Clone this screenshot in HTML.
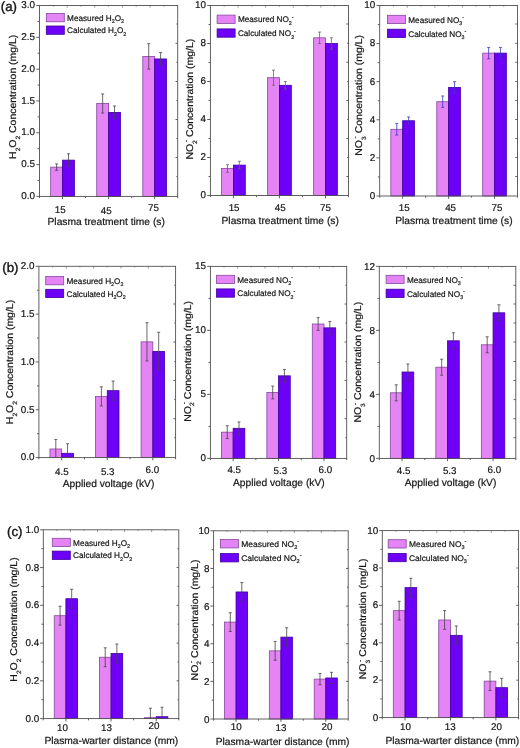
<!DOCTYPE html>
<html><head><meta charset="utf-8"><title>Figure</title>
<style>html,body{margin:0;padding:0;background:#fff}svg{display:block}text{stroke:#161616;stroke-width:0.2px;text-rendering:geometricPrecision}</style></head>
<body><svg width="520" height="748" viewBox="0 0 520 748" font-family='"Liberation Sans", sans-serif' fill="#161616">
<rect width="520" height="748" fill="#ffffff"/>
<g>
<rect x="50.67" y="167.13" width="11.87" height="29.27" fill="#e584f5" stroke="#84489e" stroke-width="0.8"/>
<rect x="62.53" y="160.13" width="11.87" height="36.27" fill="#6e00f8" stroke="#3c00a0" stroke-width="0.8"/>
<path d="M56.60 163.95V170.31M55.10 163.95h3M55.10 170.31h3" stroke="#444" stroke-width="0.8" fill="none"/>
<path d="M68.47 153.77V166.49M66.97 153.77h3M66.97 166.49h3" stroke="#444" stroke-width="0.8" fill="none"/>
<rect x="96.73" y="103.50" width="11.87" height="92.90" fill="#e584f5" stroke="#84489e" stroke-width="0.8"/>
<rect x="108.60" y="112.40" width="11.87" height="84.00" fill="#6e00f8" stroke="#3c00a0" stroke-width="0.8"/>
<path d="M102.67 93.95V113.04M101.17 93.95h3M101.17 113.04h3" stroke="#444" stroke-width="0.8" fill="none"/>
<path d="M114.53 106.04V118.77M113.03 106.04h3M113.03 118.77h3" stroke="#444" stroke-width="0.8" fill="none"/>
<rect x="142.80" y="56.41" width="11.87" height="139.99" fill="#e584f5" stroke="#84489e" stroke-width="0.8"/>
<rect x="154.67" y="58.95" width="11.87" height="137.45" fill="#6e00f8" stroke="#3c00a0" stroke-width="0.8"/>
<path d="M148.73 43.68V69.13M147.23 43.68h3M147.23 69.13h3" stroke="#444" stroke-width="0.8" fill="none"/>
<path d="M160.60 52.59V65.32M159.10 52.59h3M159.10 65.32h3" stroke="#444" stroke-width="0.8" fill="none"/>
<rect x="39.50" y="5.50" width="138.20" height="190.90" fill="none" stroke="#505050" stroke-width="0.9"/>
<text transform="translate(35.10 199.10)" font-size="9.9" text-anchor="end">0.0</text>
<text transform="translate(35.10 167.28)" font-size="9.9" text-anchor="end">0.5</text>
<text transform="translate(35.10 135.47)" font-size="9.9" text-anchor="end">1.0</text>
<text transform="translate(35.10 103.65)" font-size="9.9" text-anchor="end">1.5</text>
<text transform="translate(35.10 71.83)" font-size="9.9" text-anchor="end">2.0</text>
<text transform="translate(35.10 40.02)" font-size="9.9" text-anchor="end">2.5</text>
<text transform="translate(35.10 8.20)" font-size="9.9" text-anchor="end">3.0</text>
<text transform="translate(60.20 213.00)" font-size="9.8" text-anchor="middle">15</text>
<text transform="translate(106.20 213.50)" font-size="9.8" text-anchor="middle">45</text>
<text transform="translate(153.50 211.40)" font-size="9.8" text-anchor="middle">75</text>
<path d="M39.50 196.40h-3.2M39.50 180.49h-1.9M39.50 164.58h-3.2M39.50 148.68h-1.9M39.50 132.77h-3.2M39.50 116.86h-1.9M39.50 100.95h-3.2M39.50 85.04h-1.9M39.50 69.13h-3.2M39.50 53.22h-1.9M39.50 37.32h-3.2M39.50 21.41h-1.9M39.50 5.50h-3.2M177.70 43.30h-2.2M177.70 81.50h-2.2M177.70 119.50h-2.2M177.70 157.50h-2.2M177.70 24.00h-1.3M177.70 62.30h-1.3M177.70 100.50h-1.3M177.70 138.50h-1.3M177.70 176.50h-1.3M62.53 196.40v2.8M108.60 196.40v2.8M154.67 196.40v2.8M39.50 196.40v1.7M85.57 196.40v1.7M131.63 196.40v1.7M177.70 196.40v1.7" stroke="#505050" stroke-width="0.9" fill="none"/>
<path d="M53.32 5.50v1.2M67.14 5.50v2.2M80.96 5.50v1.2M94.78 5.50v2.2M108.60 5.50v1.2M122.42 5.50v2.2M136.24 5.50v1.2M150.06 5.50v2.2M163.88 5.50v1.2" stroke="#505050" stroke-width="0.8" fill="none" opacity="0.7"/>
<text transform="translate(106.20 224.60)" font-size="10.25" text-anchor="middle">Plasma treatment time (s)</text>
<text transform="translate(16.00 96.80) rotate(-90) scale(1.068 1)" font-size="9.8" text-anchor="middle">H<tspan dy="3.8" font-size="6.2">2</tspan><tspan dy="-3.8">O</tspan><tspan dy="3.8" font-size="6.2">2</tspan><tspan dy="-3.8"> Concentration (mg/L)</tspan></text>
<rect x="46.30" y="13.50" width="18" height="8.3" fill="#e584f5" stroke="#84489e" stroke-width="0.8"/>
<rect x="46.30" y="26.00" width="18" height="8.3" fill="#6e00f8" stroke="#3c00a0" stroke-width="0.8"/>
<text transform="translate(67.10 20.80)" font-size="8.2">Measured H<tspan dy="2.3" font-size="5.3">2</tspan><tspan dy="-2.3">O</tspan><tspan dy="2.3" font-size="5.3">2</tspan></text>
<text transform="translate(67.10 33.30)" font-size="8.2">Calculated H<tspan dy="2.3" font-size="5.3">2</tspan><tspan dy="-2.3">O</tspan><tspan dy="2.3" font-size="5.3">2</tspan></text>
<text transform="translate(0.80 10.50)" font-size="13.3" style="stroke-width:0.4px">(a)</text>
</g>
<g>
<rect x="221.56" y="168.52" width="11.86" height="26.98" fill="#e584f5" stroke="#84489e" stroke-width="0.8"/>
<rect x="233.42" y="165.10" width="11.86" height="30.40" fill="#6e00f8" stroke="#3c00a0" stroke-width="0.8"/>
<path d="M227.49 164.72V172.32M225.99 164.72h3M225.99 172.32h3" stroke="#666" stroke-width="0.8" fill="none"/>
<path d="M239.35 161.30V168.90M237.85 161.30h3M237.85 168.90h3" stroke="#666" stroke-width="0.8" fill="none"/>
<rect x="267.59" y="77.70" width="11.86" height="117.80" fill="#e584f5" stroke="#84489e" stroke-width="0.8"/>
<rect x="279.45" y="85.30" width="11.86" height="110.20" fill="#6e00f8" stroke="#3c00a0" stroke-width="0.8"/>
<path d="M273.52 70.10V85.30M272.02 70.10h3M272.02 85.30h3" stroke="#666" stroke-width="0.8" fill="none"/>
<path d="M285.38 81.50V89.10M283.88 81.50h3M283.88 89.10h3" stroke="#666" stroke-width="0.8" fill="none"/>
<rect x="313.62" y="37.80" width="11.86" height="157.70" fill="#e584f5" stroke="#84489e" stroke-width="0.8"/>
<rect x="325.48" y="43.50" width="11.86" height="152.00" fill="#6e00f8" stroke="#3c00a0" stroke-width="0.8"/>
<path d="M319.55 32.10V43.50M318.05 32.10h3M318.05 43.50h3" stroke="#666" stroke-width="0.8" fill="none"/>
<path d="M331.41 37.80V49.20M329.91 37.80h3M329.91 49.20h3" stroke="#666" stroke-width="0.8" fill="none"/>
<rect x="210.40" y="5.50" width="138.10" height="190.00" fill="none" stroke="#505050" stroke-width="0.9"/>
<text transform="translate(206.00 198.10)" font-size="9.9" text-anchor="end">0</text>
<text transform="translate(206.00 160.10)" font-size="9.9" text-anchor="end">2</text>
<text transform="translate(206.00 122.10)" font-size="9.9" text-anchor="end">4</text>
<text transform="translate(206.00 84.10)" font-size="9.9" text-anchor="end">6</text>
<text transform="translate(206.00 46.10)" font-size="9.9" text-anchor="end">8</text>
<text transform="translate(206.00 8.10)" font-size="9.9" text-anchor="end">10</text>
<text transform="translate(234.10 210.80)" font-size="9.8" text-anchor="middle">15</text>
<text transform="translate(280.20 210.80)" font-size="9.8" text-anchor="middle">45</text>
<text transform="translate(325.40 210.80)" font-size="9.8" text-anchor="middle">75</text>
<path d="M210.40 195.50h-3.2M210.40 176.50h-1.9M210.40 157.50h-3.2M210.40 138.50h-1.9M210.40 119.50h-3.2M210.40 100.50h-1.9M210.40 81.50h-3.2M210.40 62.50h-1.9M210.40 43.50h-3.2M210.40 24.50h-1.9M210.40 5.50h-3.2M348.50 24.00h-2.2M348.50 62.30h-2.2M348.50 100.50h-2.2M348.50 138.50h-2.2M348.50 176.50h-2.2M348.50 43.30h-1.3M348.50 81.50h-1.3M348.50 119.50h-1.3M348.50 157.50h-1.3M233.42 195.50v2.8M279.45 195.50v2.8M325.48 195.50v2.8M210.40 195.50v1.7M256.43 195.50v1.7M302.47 195.50v1.7M348.50 195.50v1.7" stroke="#505050" stroke-width="0.9" fill="none"/>
<path d="M224.21 5.50v1.2M238.02 5.50v2.2M251.83 5.50v1.2M265.64 5.50v2.2M279.45 5.50v1.2M293.26 5.50v2.2M307.07 5.50v1.2M320.88 5.50v2.2M334.69 5.50v1.2" stroke="#505050" stroke-width="0.8" fill="none" opacity="0.7"/>
<text transform="translate(280.20 224.30)" font-size="10.25" text-anchor="middle">Plasma treatment time (s)</text>
<text transform="translate(192.70 99.20) rotate(-90) scale(1.068 1)" font-size="9.8" text-anchor="middle">NO<tspan dy="3.8" font-size="6.2">2</tspan><tspan dy="-8.21" dx="-1.86" font-size="6.2">-</tspan><tspan dy="4.41"> Concentration (mg/L)</tspan></text>
<rect x="217.10" y="15.10" width="18" height="8.3" fill="#e584f5" stroke="#84489e" stroke-width="0.8"/>
<rect x="217.10" y="28.90" width="18" height="8.3" fill="#6e00f8" stroke="#3c00a0" stroke-width="0.8"/>
<text transform="translate(237.90 22.40)" font-size="8.2">Measured NO<tspan dy="2.3" font-size="5.3">2</tspan><tspan dy="-5.99" dx="-0" font-size="5.3">-</tspan></text>
<text transform="translate(237.90 36.20)" font-size="8.2">Calculated NO<tspan dy="2.3" font-size="5.3">2</tspan><tspan dy="-5.99" dx="-0" font-size="5.3">-</tspan></text>
</g>
<g>
<rect x="390.83" y="129.32" width="11.83" height="66.68" fill="#e584f5" stroke="#84489e" stroke-width="0.8"/>
<rect x="402.67" y="120.75" width="11.83" height="75.25" fill="#6e00f8" stroke="#3c00a0" stroke-width="0.8"/>
<path d="M396.75 123.61V135.04M395.25 123.61h3M395.25 135.04h3" stroke="#3a3ac8" stroke-width="0.8" fill="none"/>
<path d="M408.58 116.94V124.56M407.08 116.94h3M407.08 124.56h3" stroke="#3a3ac8" stroke-width="0.8" fill="none"/>
<rect x="436.77" y="101.70" width="11.83" height="94.30" fill="#e584f5" stroke="#84489e" stroke-width="0.8"/>
<rect x="448.60" y="87.41" width="11.83" height="108.59" fill="#6e00f8" stroke="#3c00a0" stroke-width="0.8"/>
<path d="M442.68 95.99V107.42M441.18 95.99h3M441.18 107.42h3" stroke="#3a3ac8" stroke-width="0.8" fill="none"/>
<path d="M454.52 81.70V93.13M453.02 81.70h3M453.02 93.13h3" stroke="#3a3ac8" stroke-width="0.8" fill="none"/>
<rect x="482.70" y="53.12" width="11.83" height="142.88" fill="#e584f5" stroke="#84489e" stroke-width="0.8"/>
<rect x="494.53" y="53.12" width="11.83" height="142.88" fill="#6e00f8" stroke="#3c00a0" stroke-width="0.8"/>
<path d="M488.62 47.41V58.84M487.12 47.41h3M487.12 58.84h3" stroke="#3a3ac8" stroke-width="0.8" fill="none"/>
<path d="M500.45 47.41V58.84M498.95 47.41h3M498.95 58.84h3" stroke="#3a3ac8" stroke-width="0.8" fill="none"/>
<rect x="379.70" y="5.50" width="137.80" height="190.50" fill="none" stroke="#505050" stroke-width="0.9"/>
<text transform="translate(375.30 198.80)" font-size="9.9" text-anchor="end">0</text>
<text transform="translate(375.30 160.70)" font-size="9.9" text-anchor="end">2</text>
<text transform="translate(375.30 122.60)" font-size="9.9" text-anchor="end">4</text>
<text transform="translate(375.30 84.50)" font-size="9.9" text-anchor="end">6</text>
<text transform="translate(375.30 46.40)" font-size="9.9" text-anchor="end">8</text>
<text transform="translate(375.30 8.30)" font-size="9.9" text-anchor="end">10</text>
<text transform="translate(404.30 211.40)" font-size="9.8" text-anchor="middle">15</text>
<text transform="translate(450.60 211.40)" font-size="9.8" text-anchor="middle">45</text>
<text transform="translate(497.00 210.50)" font-size="9.8" text-anchor="middle">75</text>
<path d="M379.70 196.00h-3.2M379.70 176.95h-1.9M379.70 157.90h-3.2M379.70 138.85h-1.9M379.70 119.80h-3.2M379.70 100.75h-1.9M379.70 81.70h-3.2M379.70 62.65h-1.9M379.70 43.60h-3.2M379.70 24.55h-1.9M379.70 5.50h-3.2M517.50 24.00h-2.2M517.50 43.30h-2.2M517.50 62.30h-2.2M517.50 81.50h-2.2M517.50 100.50h-2.2M517.50 119.50h-2.2M517.50 138.50h-2.2M517.50 157.50h-2.2M517.50 176.50h-2.2M402.67 196.00v2.8M448.60 196.00v2.8M494.53 196.00v2.8M379.70 196.00v1.7M425.63 196.00v1.7M471.57 196.00v1.7M517.50 196.00v1.7" stroke="#505050" stroke-width="0.9" fill="none"/>
<path d="M393.48 5.50v1.2M407.26 5.50v2.2M421.04 5.50v1.2M434.82 5.50v2.2M448.60 5.50v1.2M462.38 5.50v2.2M476.16 5.50v1.2M489.94 5.50v2.2M503.72 5.50v1.2" stroke="#505050" stroke-width="0.8" fill="none" opacity="0.7"/>
<text transform="translate(453.90 224.30)" font-size="10.25" text-anchor="middle">Plasma treatment time (s)</text>
<text transform="translate(361.90 95.40) rotate(-90) scale(1.068 1)" font-size="9.8" text-anchor="middle">NO<tspan dy="3.8" font-size="6.2">3</tspan><tspan dy="-8.21" dx="-1.86" font-size="6.2">-</tspan><tspan dy="4.41"> Concentration (mg/L)</tspan></text>
<rect x="387.50" y="15.30" width="18" height="8.3" fill="#e584f5" stroke="#84489e" stroke-width="0.8"/>
<rect x="387.50" y="29.20" width="18" height="8.3" fill="#6e00f8" stroke="#3c00a0" stroke-width="0.8"/>
<text transform="translate(408.30 22.60)" font-size="8.2">Measured NO<tspan dy="2.3" font-size="5.3">3</tspan><tspan dy="-5.99" dx="-0" font-size="5.3">-</tspan></text>
<text transform="translate(408.30 36.50)" font-size="8.2">Calculated NO<tspan dy="2.3" font-size="5.3">3</tspan><tspan dy="-5.99" dx="-0" font-size="5.3">-</tspan></text>
</g>
<g>
<rect x="49.94" y="448.99" width="11.74" height="8.61" fill="#e584f5" stroke="#84489e" stroke-width="0.8"/>
<rect x="61.68" y="453.30" width="11.74" height="4.30" fill="#6e00f8" stroke="#3c00a0" stroke-width="0.8"/>
<path d="M55.81 439.43V457.60M54.31 439.43h3" stroke="#444" stroke-width="0.8" fill="none"/>
<path d="M67.55 443.73V457.60M66.05 443.73h3" stroke="#444" stroke-width="0.8" fill="none"/>
<rect x="95.51" y="396.38" width="11.74" height="61.22" fill="#e584f5" stroke="#84489e" stroke-width="0.8"/>
<rect x="107.25" y="390.65" width="11.74" height="66.95" fill="#6e00f8" stroke="#3c00a0" stroke-width="0.8"/>
<path d="M101.38 386.82V405.95M99.88 386.82h3M99.88 405.95h3" stroke="#444" stroke-width="0.8" fill="none"/>
<path d="M113.12 381.08V400.21M111.62 381.08h3M111.62 400.21h3" stroke="#444" stroke-width="0.8" fill="none"/>
<rect x="141.08" y="341.86" width="11.74" height="115.74" fill="#e584f5" stroke="#84489e" stroke-width="0.8"/>
<rect x="152.82" y="351.43" width="11.74" height="106.17" fill="#6e00f8" stroke="#3c00a0" stroke-width="0.8"/>
<path d="M146.95 322.73V360.99M145.45 322.73h3M145.45 360.99h3" stroke="#444" stroke-width="0.8" fill="none"/>
<path d="M158.69 332.30V370.56M157.19 332.30h3M157.19 370.56h3" stroke="#444" stroke-width="0.8" fill="none"/>
<rect x="38.90" y="266.30" width="136.70" height="191.30" fill="none" stroke="#505050" stroke-width="0.9"/>
<text transform="translate(34.50 460.40)" font-size="9.9" text-anchor="end">0.0</text>
<text transform="translate(34.50 412.58)" font-size="9.9" text-anchor="end">0.5</text>
<text transform="translate(34.50 364.75)" font-size="9.9" text-anchor="end">1.0</text>
<text transform="translate(34.50 316.93)" font-size="9.9" text-anchor="end">1.5</text>
<text transform="translate(34.50 269.10)" font-size="9.9" text-anchor="end">2.0</text>
<text transform="translate(61.80 474.90)" font-size="9.8" text-anchor="middle">4.5</text>
<text transform="translate(107.70 474.90)" font-size="9.8" text-anchor="middle">5.3</text>
<text transform="translate(152.30 473.40)" font-size="9.8" text-anchor="middle">6.0</text>
<path d="M38.90 457.60h-3.2M38.90 433.69h-1.9M38.90 409.78h-3.2M38.90 385.86h-1.9M38.90 361.95h-3.2M38.90 338.04h-1.9M38.90 314.12h-3.2M38.90 290.21h-1.9M38.90 266.30h-3.2M175.60 304.00h-2.2M175.60 342.00h-2.2M175.60 380.50h-2.2M175.60 418.70h-2.2M175.60 285.30h-1.3M175.60 323.00h-1.3M175.60 361.50h-1.3M175.60 399.60h-1.3M175.60 437.70h-1.3M61.68 457.60v2.8M107.25 457.60v2.8M152.82 457.60v2.8M38.90 457.60v1.7M84.47 457.60v1.7M130.03 457.60v1.7M175.60 457.60v1.7" stroke="#505050" stroke-width="0.9" fill="none"/>
<path d="M52.57 266.30v1.2M66.24 266.30v2.2M79.91 266.30v1.2M93.58 266.30v2.2M107.25 266.30v1.2M120.92 266.30v2.2M134.59 266.30v1.2M148.26 266.30v2.2M161.93 266.30v1.2" stroke="#505050" stroke-width="0.8" fill="none" opacity="0.7"/>
<text transform="translate(108.50 487.20)" font-size="10.25" text-anchor="middle">Applied voltage (kV)</text>
<text transform="translate(13.00 362.00) rotate(-90) scale(1.068 1)" font-size="9.8" text-anchor="middle">H<tspan dy="3.8" font-size="6.2">2</tspan><tspan dy="-3.8">O</tspan><tspan dy="3.8" font-size="6.2">2</tspan><tspan dy="-3.8"> Concentration (mg/L)</tspan></text>
<rect x="45.70" y="276.50" width="18" height="8.3" fill="#e584f5" stroke="#84489e" stroke-width="0.8"/>
<rect x="45.70" y="289.30" width="18" height="8.3" fill="#6e00f8" stroke="#3c00a0" stroke-width="0.8"/>
<text transform="translate(66.50 283.80)" font-size="8.2">Measured H<tspan dy="2.3" font-size="5.3">2</tspan><tspan dy="-2.3">O</tspan><tspan dy="2.3" font-size="5.3">2</tspan></text>
<text transform="translate(66.50 296.60)" font-size="8.2">Calculated H<tspan dy="2.3" font-size="5.3">2</tspan><tspan dy="-2.3">O</tspan><tspan dy="2.3" font-size="5.3">2</tspan></text>
<text transform="translate(2.20 271.50)" font-size="13.3" style="stroke-width:0.4px">(b)</text>
</g>
<g>
<rect x="221.41" y="432.16" width="11.70" height="26.24" fill="#e584f5" stroke="#84489e" stroke-width="0.8"/>
<rect x="233.12" y="428.32" width="11.70" height="30.08" fill="#6e00f8" stroke="#3c00a0" stroke-width="0.8"/>
<path d="M227.26 425.76V438.56M225.76 425.76h3M225.76 438.56h3" stroke="#444" stroke-width="0.8" fill="none"/>
<path d="M238.97 421.92V434.72M237.47 421.92h3M237.47 434.72h3" stroke="#444" stroke-width="0.8" fill="none"/>
<rect x="266.85" y="392.48" width="11.70" height="65.92" fill="#e584f5" stroke="#84489e" stroke-width="0.8"/>
<rect x="278.55" y="375.84" width="11.70" height="82.56" fill="#6e00f8" stroke="#3c00a0" stroke-width="0.8"/>
<path d="M272.70 386.08V398.88M271.20 386.08h3M271.20 398.88h3" stroke="#444" stroke-width="0.8" fill="none"/>
<path d="M284.40 369.44V382.24M282.90 369.44h3M282.90 382.24h3" stroke="#444" stroke-width="0.8" fill="none"/>
<rect x="312.28" y="324.00" width="11.70" height="134.40" fill="#e584f5" stroke="#84489e" stroke-width="0.8"/>
<rect x="323.98" y="327.84" width="11.70" height="130.56" fill="#6e00f8" stroke="#3c00a0" stroke-width="0.8"/>
<path d="M318.13 317.60V330.40M316.63 317.60h3M316.63 330.40h3" stroke="#444" stroke-width="0.8" fill="none"/>
<path d="M329.84 321.44V334.24M328.34 321.44h3M328.34 334.24h3" stroke="#444" stroke-width="0.8" fill="none"/>
<rect x="210.40" y="266.40" width="136.30" height="192.00" fill="none" stroke="#505050" stroke-width="0.9"/>
<text transform="translate(206.00 461.00)" font-size="9.9" text-anchor="end">0</text>
<text transform="translate(206.00 397.00)" font-size="9.9" text-anchor="end">5</text>
<text transform="translate(206.00 333.00)" font-size="9.9" text-anchor="end">10</text>
<text transform="translate(206.00 269.00)" font-size="9.9" text-anchor="end">15</text>
<text transform="translate(234.20 473.40)" font-size="9.8" text-anchor="middle">4.5</text>
<text transform="translate(280.40 474.00)" font-size="9.8" text-anchor="middle">5.3</text>
<text transform="translate(325.40 473.40)" font-size="9.8" text-anchor="middle">6.0</text>
<path d="M210.40 458.40h-3.2M210.40 426.40h-1.9M210.40 394.40h-3.2M210.40 362.40h-1.9M210.40 330.40h-3.2M210.40 298.40h-1.9M210.40 266.40h-3.2M346.70 304.00h-2.2M346.70 342.00h-2.2M346.70 380.50h-2.2M346.70 418.70h-2.2M346.70 285.30h-1.3M346.70 323.00h-1.3M346.70 361.50h-1.3M346.70 399.60h-1.3M346.70 437.70h-1.3M233.12 458.40v2.8M278.55 458.40v2.8M323.98 458.40v2.8M210.40 458.40v1.7M255.83 458.40v1.7M301.27 458.40v1.7M346.70 458.40v1.7" stroke="#505050" stroke-width="0.9" fill="none"/>
<path d="M224.03 266.40v1.2M237.66 266.40v2.2M251.29 266.40v1.2M264.92 266.40v2.2M278.55 266.40v1.2M292.18 266.40v2.2M305.81 266.40v1.2M319.44 266.40v2.2M333.07 266.40v1.2" stroke="#505050" stroke-width="0.8" fill="none" opacity="0.7"/>
<text transform="translate(278.80 485.70)" font-size="10.25" text-anchor="middle">Applied voltage (kV)</text>
<text transform="translate(190.60 361.30) rotate(-90) scale(1.068 1)" font-size="9.8" text-anchor="middle">NO<tspan dy="3.8" font-size="6.2">2</tspan><tspan dy="-8.21" dx="-1.86" font-size="6.2">-</tspan><tspan dy="4.41"> Concentration (mg/L)</tspan></text>
<rect x="216.50" y="275.30" width="18" height="8.3" fill="#e584f5" stroke="#84489e" stroke-width="0.8"/>
<rect x="216.50" y="288.90" width="18" height="8.3" fill="#6e00f8" stroke="#3c00a0" stroke-width="0.8"/>
<text transform="translate(237.30 282.60)" font-size="8.2">Measured NO<tspan dy="2.3" font-size="5.3">2</tspan><tspan dy="-5.99" dx="-0" font-size="5.3">-</tspan></text>
<text transform="translate(237.30 296.20)" font-size="8.2">Calculated NO<tspan dy="2.3" font-size="5.3">2</tspan><tspan dy="-5.99" dx="-0" font-size="5.3">-</tspan></text>
</g>
<g>
<rect x="390.33" y="392.80" width="11.72" height="65.60" fill="#e584f5" stroke="#84489e" stroke-width="0.8"/>
<rect x="402.05" y="372.00" width="11.72" height="86.40" fill="#6e00f8" stroke="#3c00a0" stroke-width="0.8"/>
<path d="M396.19 384.80V400.80M394.69 384.80h3M394.69 400.80h3" stroke="#444" stroke-width="0.8" fill="none"/>
<path d="M407.91 364.00V380.00M406.41 364.00h3M406.41 380.00h3" stroke="#444" stroke-width="0.8" fill="none"/>
<rect x="435.83" y="367.20" width="11.72" height="91.20" fill="#e584f5" stroke="#84489e" stroke-width="0.8"/>
<rect x="447.55" y="340.80" width="11.72" height="117.60" fill="#6e00f8" stroke="#3c00a0" stroke-width="0.8"/>
<path d="M441.69 359.20V375.20M440.19 359.20h3M440.19 375.20h3" stroke="#444" stroke-width="0.8" fill="none"/>
<path d="M453.41 332.80V348.80M451.91 332.80h3M451.91 348.80h3" stroke="#444" stroke-width="0.8" fill="none"/>
<rect x="481.33" y="344.80" width="11.72" height="113.60" fill="#e584f5" stroke="#84489e" stroke-width="0.8"/>
<rect x="493.05" y="312.80" width="11.72" height="145.60" fill="#6e00f8" stroke="#3c00a0" stroke-width="0.8"/>
<path d="M487.19 336.80V352.80M485.69 336.80h3M485.69 352.80h3" stroke="#444" stroke-width="0.8" fill="none"/>
<path d="M498.91 304.80V320.80M497.41 304.80h3M497.41 320.80h3" stroke="#444" stroke-width="0.8" fill="none"/>
<rect x="379.30" y="266.40" width="136.50" height="192.00" fill="none" stroke="#505050" stroke-width="0.9"/>
<text transform="translate(374.90 461.50)" font-size="9.9" text-anchor="end">0</text>
<text transform="translate(374.90 397.50)" font-size="9.9" text-anchor="end">4</text>
<text transform="translate(374.90 333.50)" font-size="9.9" text-anchor="end">8</text>
<text transform="translate(374.90 269.50)" font-size="9.9" text-anchor="end">12</text>
<text transform="translate(403.60 474.00)" font-size="9.8" text-anchor="middle">4.5</text>
<text transform="translate(449.70 474.00)" font-size="9.8" text-anchor="middle">5.3</text>
<text transform="translate(494.30 473.40)" font-size="9.8" text-anchor="middle">6.0</text>
<path d="M379.30 458.40h-3.2M379.30 426.40h-1.9M379.30 394.40h-3.2M379.30 362.40h-1.9M379.30 330.40h-3.2M379.30 298.40h-1.9M379.30 266.40h-3.2M515.80 285.30h-2.2M515.80 304.00h-2.2M515.80 323.00h-2.2M515.80 342.00h-2.2M515.80 361.50h-2.2M515.80 380.50h-2.2M515.80 399.60h-2.2M515.80 418.70h-2.2M515.80 437.70h-2.2M402.05 458.40v2.8M447.55 458.40v2.8M493.05 458.40v2.8M379.30 458.40v1.7M424.80 458.40v1.7M470.30 458.40v1.7M515.80 458.40v1.7" stroke="#505050" stroke-width="0.9" fill="none"/>
<path d="M392.95 266.40v1.2M406.60 266.40v2.2M420.25 266.40v1.2M433.90 266.40v2.2M447.55 266.40v1.2M461.20 266.40v2.2M474.85 266.40v1.2M488.50 266.40v2.2M502.15 266.40v1.2" stroke="#505050" stroke-width="0.8" fill="none" opacity="0.7"/>
<text transform="translate(450.50 486.30)" font-size="10.25" text-anchor="middle">Applied voltage (kV)</text>
<text transform="translate(361.30 362.20) rotate(-90) scale(1.068 1)" font-size="9.8" text-anchor="middle">NO<tspan dy="3.8" font-size="6.2">3</tspan><tspan dy="-8.21" dx="-1.86" font-size="6.2">-</tspan><tspan dy="4.41"> Concentration (mg/L)</tspan></text>
<rect x="386.10" y="275.30" width="18" height="8.3" fill="#e584f5" stroke="#84489e" stroke-width="0.8"/>
<rect x="386.10" y="289.20" width="18" height="8.3" fill="#6e00f8" stroke="#3c00a0" stroke-width="0.8"/>
<text transform="translate(406.90 282.60)" font-size="8.2">Measured NO<tspan dy="2.3" font-size="5.3">3</tspan><tspan dy="-5.99" dx="-0" font-size="5.3">-</tspan></text>
<text transform="translate(406.90 296.50)" font-size="8.2">Calculated NO<tspan dy="2.3" font-size="5.3">3</tspan><tspan dy="-5.99" dx="-0" font-size="5.3">-</tspan></text>
</g>
<g>
<rect x="54.25" y="615.70" width="11.64" height="102.90" fill="#e584f5" stroke="#84489e" stroke-width="0.8"/>
<rect x="65.88" y="598.71" width="11.64" height="119.89" fill="#6e00f8" stroke="#3c00a0" stroke-width="0.8"/>
<path d="M60.07 606.26V625.14M58.57 606.26h3M58.57 625.14h3" stroke="#444" stroke-width="0.8" fill="none"/>
<path d="M71.70 589.27V608.15M70.20 589.27h3M70.20 608.15h3" stroke="#444" stroke-width="0.8" fill="none"/>
<rect x="99.41" y="657.24" width="11.64" height="61.36" fill="#e584f5" stroke="#84489e" stroke-width="0.8"/>
<rect x="111.05" y="653.46" width="11.64" height="65.14" fill="#6e00f8" stroke="#3c00a0" stroke-width="0.8"/>
<path d="M105.23 647.80V666.68M103.73 647.80h3M103.73 666.68h3" stroke="#444" stroke-width="0.8" fill="none"/>
<path d="M116.87 644.02V662.90M115.37 644.02h3M115.37 662.90h3" stroke="#444" stroke-width="0.8" fill="none"/>
<rect x="144.58" y="717.66" width="11.64" height="0.94" fill="#e584f5" stroke="#84489e" stroke-width="0.8"/>
<rect x="156.22" y="716.71" width="11.64" height="1.89" fill="#6e00f8" stroke="#3c00a0" stroke-width="0.8"/>
<path d="M150.40 708.22V718.60M148.90 708.22h3" stroke="#444" stroke-width="0.8" fill="none"/>
<path d="M162.03 707.27V718.60M160.53 707.27h3" stroke="#444" stroke-width="0.8" fill="none"/>
<rect x="43.30" y="529.80" width="135.50" height="188.80" fill="none" stroke="#505050" stroke-width="0.9"/>
<text transform="translate(39.30 721.70)" font-size="9.9" text-anchor="end">0.0</text>
<text transform="translate(39.30 683.94)" font-size="9.9" text-anchor="end">0.2</text>
<text transform="translate(39.30 646.18)" font-size="9.9" text-anchor="end">0.4</text>
<text transform="translate(39.30 608.42)" font-size="9.9" text-anchor="end">0.6</text>
<text transform="translate(39.30 570.66)" font-size="9.9" text-anchor="end">0.8</text>
<text transform="translate(39.30 532.90)" font-size="9.9" text-anchor="end">1.0</text>
<text transform="translate(62.50 730.70)" font-size="9.8" text-anchor="middle">10</text>
<text transform="translate(106.50 731.00)" font-size="9.8" text-anchor="middle">13</text>
<text transform="translate(153.90 729.20)" font-size="9.8" text-anchor="middle">20</text>
<path d="M43.30 718.60h-3.2M43.30 699.72h-1.9M43.30 680.84h-3.2M43.30 661.96h-1.9M43.30 643.08h-3.2M43.30 624.20h-1.9M43.30 605.32h-3.2M43.30 586.44h-1.9M43.30 567.56h-3.2M43.30 548.68h-1.9M43.30 529.80h-3.2M178.80 680.84h-2.2M178.80 643.08h-2.2M178.80 605.32h-2.2M178.80 567.56h-2.2M178.80 699.72h-1.3M178.80 661.96h-1.3M178.80 624.20h-1.3M178.80 586.44h-1.3M178.80 548.68h-1.3M65.88 718.60v2.8M111.05 718.60v2.8M156.22 718.60v2.8M43.30 718.60v1.7M88.47 718.60v1.7M133.63 718.60v1.7M178.80 718.60v1.7" stroke="#505050" stroke-width="0.9" fill="none"/>
<path d="M56.85 529.80v1.2M70.40 529.80v2.2M83.95 529.80v1.2M97.50 529.80v2.2M111.05 529.80v1.2M124.60 529.80v2.2M138.15 529.80v1.2M151.70 529.80v2.2M165.25 529.80v1.2" stroke="#505050" stroke-width="0.8" fill="none" opacity="0.7"/>
<text transform="translate(111.30 743.70)" font-size="10.25" text-anchor="middle">Plasma-warter distance (mm)</text>
<text transform="translate(17.00 619.50) rotate(-90) scale(1.068 1)" font-size="9.8" text-anchor="middle">H<tspan dy="3.8" font-size="6.2">2</tspan><tspan dy="-3.8">O</tspan><tspan dy="3.8" font-size="6.2">2</tspan><tspan dy="-3.8"> Concentration (mg/L)</tspan></text>
<rect x="52.30" y="538.30" width="18" height="8.3" fill="#e584f5" stroke="#84489e" stroke-width="0.8"/>
<rect x="52.30" y="551.10" width="18" height="8.3" fill="#6e00f8" stroke="#3c00a0" stroke-width="0.8"/>
<text transform="translate(73.10 545.60)" font-size="8.2">Measured H<tspan dy="2.3" font-size="5.3">2</tspan><tspan dy="-2.3">O</tspan><tspan dy="2.3" font-size="5.3">2</tspan></text>
<text transform="translate(73.10 558.40)" font-size="8.2">Calculated H<tspan dy="2.3" font-size="5.3">2</tspan><tspan dy="-2.3">O</tspan><tspan dy="2.3" font-size="5.3">2</tspan></text>
<text transform="translate(7.00 536.00)" font-size="13.3" style="stroke-width:0.4px">(c)</text>
</g>
<g>
<rect x="224.48" y="622.08" width="11.56" height="96.92" fill="#e584f5" stroke="#84489e" stroke-width="0.8"/>
<rect x="236.03" y="591.96" width="11.56" height="127.04" fill="#6e00f8" stroke="#3c00a0" stroke-width="0.8"/>
<path d="M230.25 612.67V631.49M228.75 612.67h3M228.75 631.49h3" stroke="#444" stroke-width="0.8" fill="none"/>
<path d="M241.81 582.55V601.38M240.31 582.55h3M240.31 601.38h3" stroke="#444" stroke-width="0.8" fill="none"/>
<rect x="269.34" y="650.87" width="11.56" height="68.13" fill="#e584f5" stroke="#84489e" stroke-width="0.8"/>
<rect x="280.90" y="637.13" width="11.56" height="81.87" fill="#6e00f8" stroke="#3c00a0" stroke-width="0.8"/>
<path d="M275.12 641.46V660.28M273.62 641.46h3M273.62 660.28h3" stroke="#444" stroke-width="0.8" fill="none"/>
<path d="M286.68 627.72V646.54M285.18 627.72h3M285.18 646.54h3" stroke="#444" stroke-width="0.8" fill="none"/>
<rect x="314.21" y="679.10" width="11.56" height="39.90" fill="#e584f5" stroke="#84489e" stroke-width="0.8"/>
<rect x="325.77" y="677.97" width="11.56" height="41.03" fill="#6e00f8" stroke="#3c00a0" stroke-width="0.8"/>
<path d="M319.99 673.46V684.75M318.49 673.46h3M318.49 684.75h3" stroke="#444" stroke-width="0.8" fill="none"/>
<path d="M331.55 672.33V683.62M330.05 672.33h3M330.05 683.62h3" stroke="#444" stroke-width="0.8" fill="none"/>
<rect x="213.60" y="530.80" width="134.60" height="188.20" fill="none" stroke="#505050" stroke-width="0.9"/>
<text transform="translate(209.60 722.60)" font-size="9.9" text-anchor="end">0</text>
<text transform="translate(209.60 684.96)" font-size="9.9" text-anchor="end">2</text>
<text transform="translate(209.60 647.32)" font-size="9.9" text-anchor="end">4</text>
<text transform="translate(209.60 609.68)" font-size="9.9" text-anchor="end">6</text>
<text transform="translate(209.60 572.04)" font-size="9.9" text-anchor="end">8</text>
<text transform="translate(209.60 534.40)" font-size="9.9" text-anchor="end">10</text>
<text transform="translate(236.20 730.40)" font-size="9.8" text-anchor="middle">10</text>
<text transform="translate(281.00 731.00)" font-size="9.8" text-anchor="middle">13</text>
<text transform="translate(327.00 729.50)" font-size="9.8" text-anchor="middle">20</text>
<path d="M213.60 719.00h-3.2M213.60 700.18h-1.9M213.60 681.36h-3.2M213.60 662.54h-1.9M213.60 643.72h-3.2M213.60 624.90h-1.9M213.60 606.08h-3.2M213.60 587.26h-1.9M213.60 568.44h-3.2M213.60 549.62h-1.9M213.60 530.80h-3.2M348.20 681.36h-2.2M348.20 643.72h-2.2M348.20 606.08h-2.2M348.20 568.44h-2.2M348.20 700.18h-1.3M348.20 662.54h-1.3M348.20 624.90h-1.3M348.20 587.26h-1.3M348.20 549.62h-1.3M236.03 719.00v2.8M280.90 719.00v2.8M325.77 719.00v2.8M213.60 719.00v1.7M258.47 719.00v1.7M303.33 719.00v1.7M348.20 719.00v1.7" stroke="#505050" stroke-width="0.9" fill="none"/>
<path d="M227.06 530.80v1.2M240.52 530.80v2.2M253.98 530.80v1.2M267.44 530.80v2.2M280.90 530.80v1.2M294.36 530.80v2.2M307.82 530.80v1.2M321.28 530.80v2.2M334.74 530.80v1.2" stroke="#505050" stroke-width="0.8" fill="none" opacity="0.7"/>
<text transform="translate(282.60 745.20)" font-size="10.25" text-anchor="middle">Plasma-warter distance (mm)</text>
<text transform="translate(197.50 620.00) rotate(-90) scale(1.068 1)" font-size="9.8" text-anchor="middle">NO<tspan dy="3.8" font-size="6.2">2</tspan><tspan dy="-8.21" dx="-1.86" font-size="6.2">-</tspan><tspan dy="4.41"> Concentration (mg/L)</tspan></text>
<rect x="220.40" y="539.60" width="18" height="8.3" fill="#e584f5" stroke="#84489e" stroke-width="0.8"/>
<rect x="220.40" y="553.60" width="18" height="8.3" fill="#6e00f8" stroke="#3c00a0" stroke-width="0.8"/>
<text transform="translate(241.20 546.90) scale(1.04 1)" font-size="8.2">Measured NO<tspan dy="2.3" font-size="5.3">2</tspan><tspan dy="-5.99" dx="-0" font-size="5.3">-</tspan></text>
<text transform="translate(241.20 560.90) scale(1.04 1)" font-size="8.2">Calculated NO<tspan dy="2.3" font-size="5.3">2</tspan><tspan dy="-5.99" dx="-0" font-size="5.3">-</tspan></text>
</g>
<g>
<rect x="393.31" y="610.64" width="11.70" height="106.96" fill="#e584f5" stroke="#84489e" stroke-width="0.8"/>
<rect x="405.02" y="587.63" width="11.70" height="129.97" fill="#6e00f8" stroke="#3c00a0" stroke-width="0.8"/>
<path d="M399.16 601.29V619.99M397.66 601.29h3M397.66 619.99h3" stroke="#444" stroke-width="0.8" fill="none"/>
<path d="M410.87 578.29V596.99M409.37 578.29h3M409.37 596.99h3" stroke="#444" stroke-width="0.8" fill="none"/>
<rect x="438.75" y="619.99" width="11.70" height="97.61" fill="#e584f5" stroke="#84489e" stroke-width="0.8"/>
<rect x="450.45" y="635.32" width="11.70" height="82.28" fill="#6e00f8" stroke="#3c00a0" stroke-width="0.8"/>
<path d="M444.60 610.64V629.34M443.10 610.64h3M443.10 629.34h3" stroke="#444" stroke-width="0.8" fill="none"/>
<path d="M456.30 625.97V644.67M454.80 625.97h3M454.80 644.67h3" stroke="#444" stroke-width="0.8" fill="none"/>
<rect x="484.18" y="681.13" width="11.70" height="36.47" fill="#e584f5" stroke="#84489e" stroke-width="0.8"/>
<rect x="495.88" y="687.68" width="11.70" height="29.92" fill="#6e00f8" stroke="#3c00a0" stroke-width="0.8"/>
<path d="M490.03 671.78V690.49M488.53 671.78h3M488.53 690.49h3" stroke="#444" stroke-width="0.8" fill="none"/>
<path d="M501.74 678.33V697.03M500.24 678.33h3M500.24 697.03h3" stroke="#444" stroke-width="0.8" fill="none"/>
<rect x="382.30" y="530.60" width="136.30" height="187.00" fill="none" stroke="#505050" stroke-width="0.9"/>
<text transform="translate(378.30 720.60)" font-size="9.9" text-anchor="end">0</text>
<text transform="translate(378.30 683.20)" font-size="9.9" text-anchor="end">2</text>
<text transform="translate(378.30 645.80)" font-size="9.9" text-anchor="end">4</text>
<text transform="translate(378.30 608.40)" font-size="9.9" text-anchor="end">6</text>
<text transform="translate(378.30 571.00)" font-size="9.9" text-anchor="end">8</text>
<text transform="translate(378.30 533.60)" font-size="9.9" text-anchor="end">10</text>
<text transform="translate(405.40 729.80)" font-size="9.8" text-anchor="middle">10</text>
<text transform="translate(450.30 729.50)" font-size="9.8" text-anchor="middle">13</text>
<text transform="translate(496.50 729.50)" font-size="9.8" text-anchor="middle">20</text>
<path d="M382.30 717.60h-3.2M382.30 698.90h-1.9M382.30 680.20h-3.2M382.30 661.50h-1.9M382.30 642.80h-3.2M382.30 624.10h-1.9M382.30 605.40h-3.2M382.30 586.70h-1.9M382.30 568.00h-3.2M382.30 549.30h-1.9M382.30 530.60h-3.2M518.60 680.20h-2.2M518.60 642.80h-2.2M518.60 605.40h-2.2M518.60 568.00h-2.2M518.60 698.90h-1.3M518.60 661.50h-1.3M518.60 624.10h-1.3M518.60 586.70h-1.3M518.60 549.30h-1.3M405.02 717.60v2.8M450.45 717.60v2.8M495.88 717.60v2.8M382.30 717.60v1.7M427.73 717.60v1.7M473.17 717.60v1.7M518.60 717.60v1.7" stroke="#505050" stroke-width="0.9" fill="none"/>
<path d="M395.93 530.60v1.2M409.56 530.60v2.2M423.19 530.60v1.2M436.82 530.60v2.2M450.45 530.60v1.2M464.08 530.60v2.2M477.71 530.60v1.2M491.34 530.60v2.2M504.97 530.60v1.2" stroke="#505050" stroke-width="0.8" fill="none" opacity="0.7"/>
<text transform="translate(452.30 744.30)" font-size="10.25" text-anchor="middle">Plasma-warter distance (mm)</text>
<text transform="translate(366.20 618.90) rotate(-90) scale(1.068 1)" font-size="9.8" text-anchor="middle">NO<tspan dy="3.8" font-size="6.2">3</tspan><tspan dy="-8.21" dx="-1.86" font-size="6.2">-</tspan><tspan dy="4.41"> Concentration (mg/L)</tspan></text>
<rect x="388.20" y="539.70" width="18" height="8.3" fill="#e584f5" stroke="#84489e" stroke-width="0.8"/>
<rect x="388.20" y="553.40" width="18" height="8.3" fill="#6e00f8" stroke="#3c00a0" stroke-width="0.8"/>
<text transform="translate(409.00 547.00) scale(1.03 1)" font-size="8.2">Measured NO<tspan dy="2.3" font-size="5.3">3</tspan><tspan dy="-5.99" dx="-0" font-size="5.3">-</tspan></text>
<text transform="translate(409.00 560.70) scale(1.03 1)" font-size="8.2">Calculated NO<tspan dy="2.3" font-size="5.3">3</tspan><tspan dy="-5.99" dx="-0" font-size="5.3">-</tspan></text>
</g>
</svg></body></html>
